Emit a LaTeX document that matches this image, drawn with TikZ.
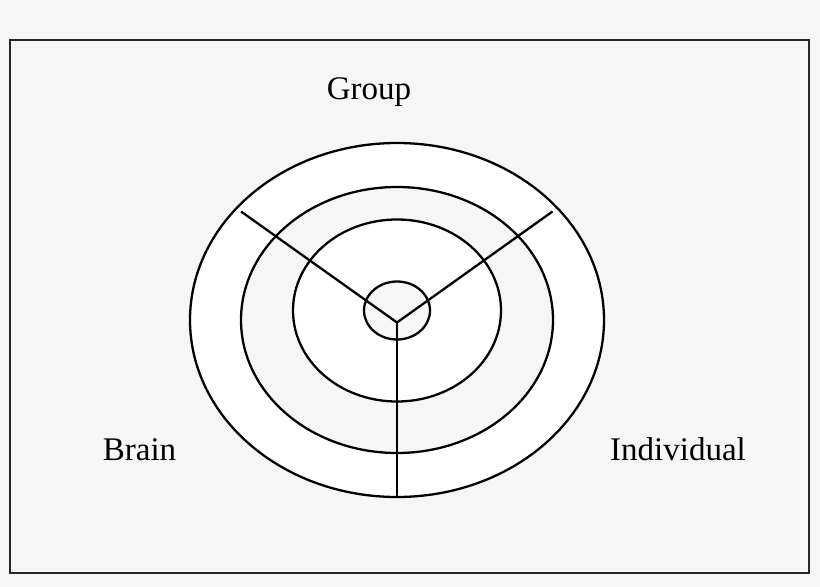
\documentclass[tikz,border=0pt]{standalone}
\usepackage{fontspec}
\setmainfont{Liberation Serif}
\usepackage{tikz}
\usetikzlibrary{positioning}
\definecolor{paper}{HTML}{F6F6F6}

\begin{document}
\begin{tikzpicture}%
	[x=0.02cm, y=-0.02cm,
	ring/.style={draw=black, line width=1.3pt},
	lightring/.style={ring, fill=white},
	greyring/.style={ring, fill=paper},
	spoke/.style={draw=black, line width=1.3pt},
	frame/.style={draw=black!85, line width=1.2pt},
	label/.style={anchor=base, inner sep=0pt, font=\fontsize{18.8}{22}\selectfont}]
%
%% Page and frame
%%
\fill[paper] (0,0) rectangle (820,587);
\draw[frame] (10,40) rectangle (809,573);
%%
%% Coordinates of the spokes
%%
\coordinate (hub) at (397,322.5);
\coordinate (upleft) at (241,211.5);
\coordinate (upright) at (552.5,211.5);
\coordinate (down) at (397,497);
%%
%% Drawing the rings, outside in
%%
\path[lightring] (397,320) ellipse [x radius=207, y radius=177];
\path[greyring] (397,320) ellipse [x radius=156, y radius=133];
\path[lightring] (397,310.5) ellipse [x radius=104, y radius=91];
\path[greyring] (397,310.5) ellipse [x radius=33, y radius=29];
%%
%% Drawing the spokes
%%
\draw[spoke] (hub) -- (upleft);
\draw[spoke] (hub) -- (upright);
\draw[spoke] (hub) -- (down);
%%
%% Labels
%%
\node[label] (group) at (369,100) {Group};
\node[label] (brain) at (139.5,460) {Brain};
\node[label] (individual) at (678,460) {Individual};
%%
\end{tikzpicture}
\end{document}
